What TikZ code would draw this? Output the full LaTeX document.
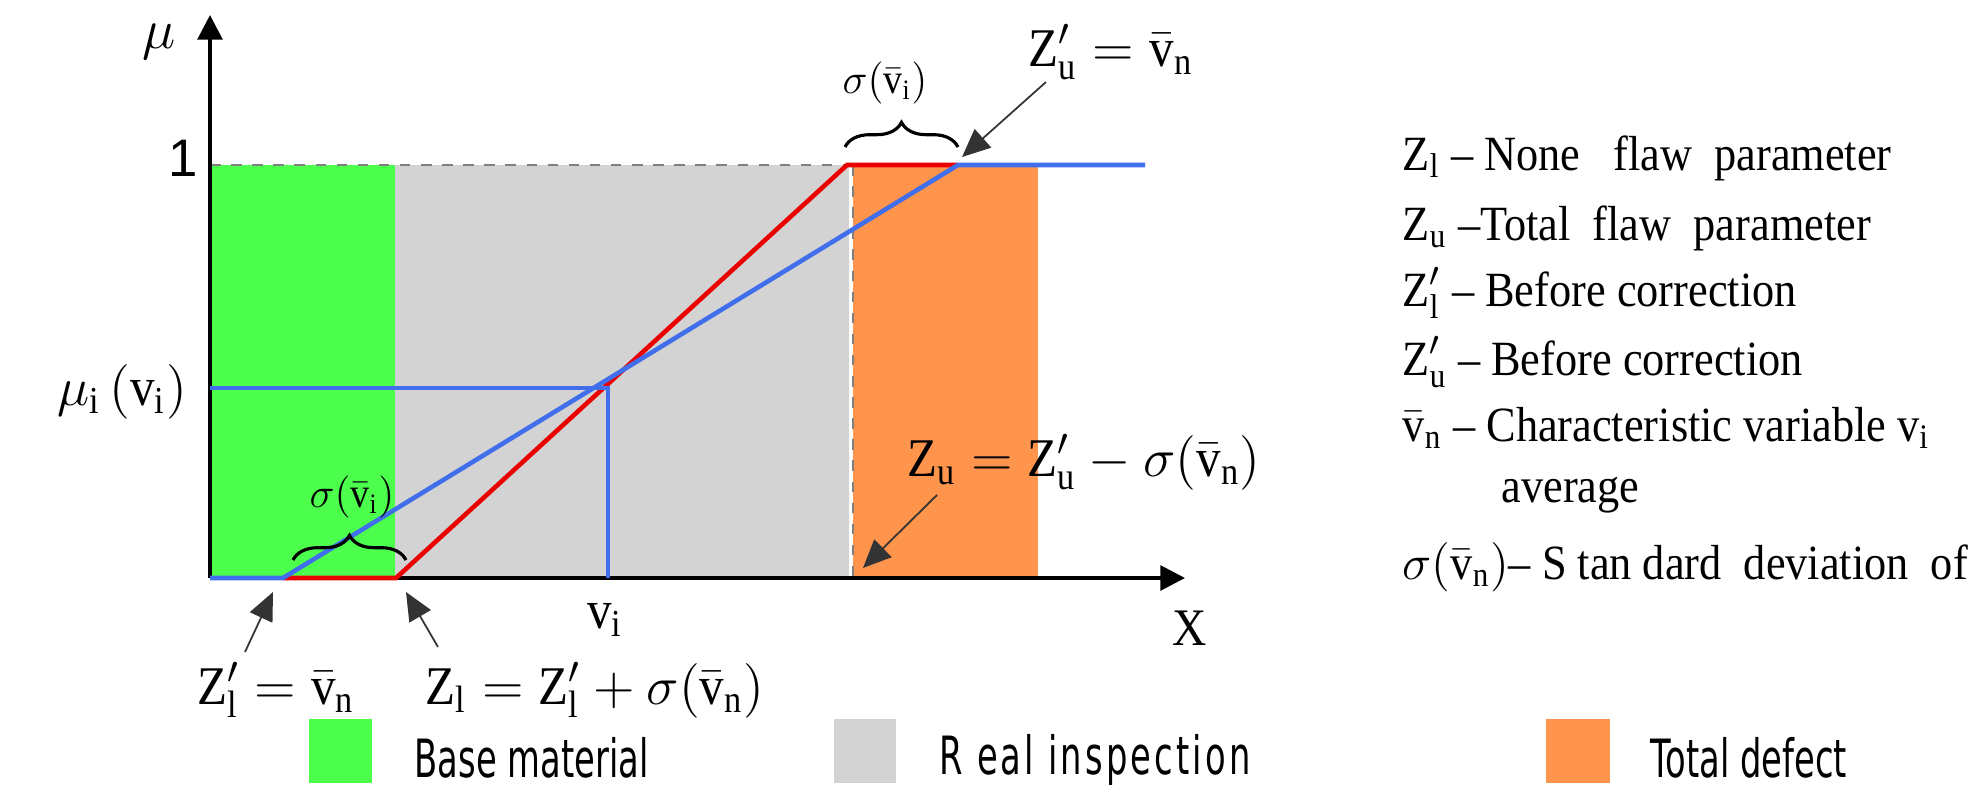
\documentclass[tikz,border=0pt]{standalone}
\usepackage{fix-cm}
\usepackage{amsmath}
\usepackage{fontspec}
\setmainfont{Liberation Serif}[FakeStretch=0.9]
\newfontfamily\legfont{DejaVu Sans}[FakeStretch=0.64]
\newfontfamily\legfontwide{DejaVu Sans}[FakeStretch=0.64,LetterSpace=6]
\newfontfamily\onefont{Liberation Sans}
\usetikzlibrary{arrows.meta,decorations.pathreplacing}
\definecolor{basegreen}{RGB}{77,255,77}
\definecolor{realgray}{RGB}{211,211,211}
\definecolor{defectorange}{RGB}{255,148,77}
\definecolor{curveblue}{RGB}{65,110,235}
\definecolor{curvered}{RGB}{235,0,0}
\def\zlow{\text{Z}_{\text{l}}}
\def\zupp{\text{Z}_{\text{u}}}
\def\zlowp{\text{Z}'_{\text{l}}}
\def\zuppp{\text{Z}'_{\text{u}}}
\def\vbarn{\bar{\text{v}}_{\text{n}}}
\def\vbari{\bar{\text{v}}_{\text{i}}}
\def\vidx{\text{v}_{\text{i}}}
\def\sigof#1{\sigma{\left(#1\right)}}
\tikzset{
  formula/.style={inner sep=0pt, font=\fontsize{15.5}{17}\selectfont},
  sigmatxt/.style={inner sep=0pt, font=\fontsize{12}{14}\selectfont},
  listtxt/.style={inner sep=0pt, anchor=west, font=\fontsize{14}{16}\selectfont},
  boxtxt/.style={inner sep=0pt, anchor=west, font=\legfont\fontsize{15}{17}\selectfont},
  callout/.style={black!80, line width=0.5pt, -{Triangle[length=8pt,width=7pt]}},
  axisline/.style={line width=1.1pt, -{Triangle[length=7pt,width=7pt]}},
  sigbrace/.style={decorate, decoration={brace, amplitude=7pt}, line width=0.9pt}
}

\begin{document}
\begin{tikzpicture}[x=0.01cm,y=-0.01cm]
			%%%%% START %%%%%
			\useasboundingbox (0,0) rectangle (1982,803);
			
			% zones
			\fill[basegreen] (210,165) rectangle (395,578);
			\fill[realgray] (395,165) rectangle (849,578);
			\fill[defectorange] (853,165) rectangle (1038,578);
			\draw[gray, dashed, line width=0.4pt] (210,165) -- (849,165);
			\draw[gray, dashed, line width=0.4pt] (853,165) -- (853,578);
			
			% axes
			\draw[axisline] (210,578) -- (210,15);
			\draw[axisline] (210,578) -- (1185,578);
			\node[font=\fontsize{16}{18}\selectfont] (mu) at (159,42) {$\mu$};
			\node[font=\onefont\fontsize{15}{17}\selectfont] (one) at (183,158) {1};
			\node[font=\fontsize{15}{17}\selectfont] (xlbl) at (1190,628) {X};
			
			% membership lines
			\draw[curvered, line width=1.3pt] (283,578) -- (396,578) -- (847,165) -- (958,165);
			\draw[curveblue, line width=1.3pt] (210,578) -- (283,578) -- (958,165) -- (1145,165);
			\draw[curveblue, line width=0.9pt] (210,388) -- (608,388) -- (608,578);
			\node[formula] (muvi) at (122,392) {$\mu_{\text{i}}\left(\vidx\right)$};
			\node[formula] (vi) at (605,620) {$\vidx$};
			
			% braces
			\draw[sigbrace] (845,147) -- (958,147);
			\node[sigmatxt] (sigtop) at (885,83) {$\sigof{\vbari}$};
			\draw[sigbrace] (293,560) -- (406,560);
			\node[sigmatxt] (sigbot) at (352,497) {$\sigof{\vbari}$};
			
			% callouts
			\node[formula] (zuptop) at (1111,52) {$\zuppp = \vbarn$};
			\coordinate (zupend) at (962,157);
			\draw[callout] ([shift={(-65,30)}]zuptop.center) -- (zupend);
			
			\node[formula] (zubot) at (1084,462) {$\zupp = \zuppp - \sigof{\vbarn}$};
			\coordinate (zuend) at (863,568);
			\draw[callout] ([shift={(-147,33)}]zubot.center) -- (zuend);
			
			\node[formula] (zlpbot) at (276,690) {$\zlowp = \vbarn$};
			\coordinate (zlpend) at (273,592);
			\draw[callout] ([shift={(-31,-38)}]zlpbot.center) -- (zlpend);
			
			\node[formula] (zlbot) at (595,690) {$\zlow = \zlowp + \sigof{\vbarn}$};
			\coordinate (zlend) at (406,592);
			\draw[callout] ([shift={(-157,-43)}]zlbot.center) -- (zlend);
			
			% definitions
			\node[listtxt] (defzl) at (1402,158) {$\zlow$ -- None\ \ \ flaw\ \ parameter};
			\node[listtxt] (defzu) at (1402,228) {$\zupp$ --Total\ \ flaw\ \ parameter};
			\node[listtxt] (defzlp) at (1402,293) {$\zlowp$ -- Before correction};
			\node[listtxt] (defzup) at (1402,362) {$\zuppp$ -- Before correction};
			\node[listtxt] (defvn) at (1402,428) {$\vbarn$ -- Characteristic variable $\vidx$};
			\node[listtxt] (defavg) at (1501,495) {average};
			\node[listtxt] (defsig) at (1402,567) {$\sigof{\vbarn}$-- S tan dard\ \ deviation\ \ of};
			
			% legend
			\fill[basegreen] (309,719) rectangle (372,783);
			\node[boxtxt] (lgbase) at (414,758) {Base material};
			\fill[realgray] (834,719) rectangle (896,783);
			\node[boxtxt, font=\legfontwide\fontsize{15}{17}\selectfont] (lgreal) at (939,760) {R eal inspection};
			\fill[defectorange] (1546,719) rectangle (1610,783);
			\node[boxtxt] (lgtotal) at (1650,758) {Total defect};
			
			%%%%% END %%%%%
\end{tikzpicture}
\end{document}
